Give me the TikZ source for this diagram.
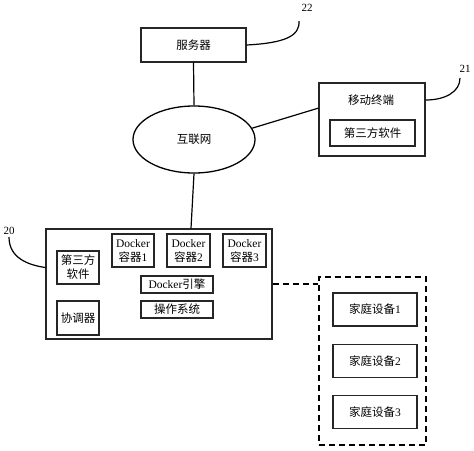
\documentclass[tikz,border=0pt]{standalone}
\usepackage{fontspec}
\setmainfont{Liberation Serif}
\newfontfamily\cjk{Noto Sans CJK SC}
\newcommand{\zh}[1]{{\cjk #1}}
\usepackage{tikz}
\usetikzlibrary{shapes.geometric,positioning}
\tikzstyle{plainbox} = [draw=black!85, fill=white, line width=1.2pt,
    rectangle, inner sep=0pt, align=center, font=\fontsize{11.5}{14}\selectfont]
\tikzstyle{dashbox} = [draw=black, line width=2pt, dash pattern=on 6pt off 4pt,
    rectangle, inner sep=0pt]
\tikzstyle{netcloud} = [draw=black, line width=1.3pt, ellipse, inner sep=0pt,
    font=\fontsize{11.5}{14}\selectfont]
\tikzstyle{link} = [draw=black, line width=1.2pt]
\tikzstyle{dashlink} = [draw=black, line width=2pt, dash pattern=on 6pt off 4pt]
\tikzstyle{tag} = [inner sep=0pt, font=\fontsize{11}{13}\selectfont]

\begin{document}
\begin{tikzpicture}[x=1pt, y=-1pt]
                \useasboundingbox (0,0) rectangle (474,450);
                % upper part
                \node [plainbox, minimum width=105pt, minimum height=34pt] (server) at (193.5,45) {\zh{服务器}};
                \node [netcloud, minimum width=122pt, minimum height=67pt] (net) at (194,139.5) {\zh{互联网}};
                \node [plainbox, minimum width=106pt, minimum height=73pt] (mobile) at (372,119.5) {};
                \node [tag, font=\fontsize{11.5}{13}\selectfont] (mobiletitle) at (371,100) {\zh{移动终端}};
                \node [plainbox, minimum width=85pt, minimum height=26pt] (mobilesoft) at (372.5,133) {\zh{第三方软件}};
                % main device
                \node [plainbox, minimum width=226pt, minimum height=110pt] (main) at (159,284) {};
                \node [plainbox, minimum width=42pt, minimum height=33pt] (mainsoft) at (78,267.5) {\zh{第三方}\\\zh{软件}};
                \node [plainbox, minimum width=42pt, minimum height=34pt] (coord) at (78,318) {\zh{协调器}};
                \node [plainbox, minimum width=42pt, minimum height=33pt] (dock1) at (133,250.5) {Docker\\\zh{容器}1};
                \node [plainbox, minimum width=43pt, minimum height=33pt] (dock2) at (188.5,250.5) {Docker\\\zh{容器}2};
                \node [plainbox, minimum width=43pt, minimum height=33pt] (dock3) at (244.5,250.5) {Docker\\\zh{容器}3};
                \node [plainbox, minimum width=72pt, minimum height=17pt] (engine) at (177,284.5) {Docker\zh{引擎}};
                \node [plainbox, minimum width=72pt, minimum height=17pt] (os) at (177,309.5) {\zh{操作系统}};
                % home devices
                \node [dashbox, minimum width=107pt, minimum height=168pt] (homes) at (372.5,361) {};
                \node [plainbox, minimum width=84pt, minimum height=33pt] (dev1) at (375,309.5) {\zh{家庭设备}1};
                \node [plainbox, minimum width=84pt, minimum height=33pt, below=17pt of dev1] (dev2) {\zh{家庭设备}2};
                \node [plainbox, minimum width=84pt, minimum height=33pt, below=17pt of dev2] (dev3) {\zh{家庭设备}3};
                % connectors
                \draw [link] (server.south) -- (net.north);
                \draw [link] (net.11) -- (mobile.168);
                \draw [link] (net.south) -- ([xshift=-3pt]net.south |- main.north);
                \draw [dashlink] (main.east) -- (main.east -| homes.west);
                % reference numbers
                \node [tag] (n22) at (307,8) {22};
                \node [tag] (n21) at (465,69) {21};
                \node [tag] (n20) at (9,231) {20};
                \coordinate (e22) at (299,21);
                \coordinate (e21) at (460,78);
                \coordinate (e20) at (9,237);
                \draw [link] (server.east) .. controls (285,43) and (300,36) .. (e22);
                \draw [link] (mobile.east |- mobiletitle) .. controls (445,100) and (460,92) .. (e21);
                \draw [link] (e20) .. controls (9,258) and (28,265) .. (main.west |- mainsoft);
            \end{tikzpicture}
\end{document}
